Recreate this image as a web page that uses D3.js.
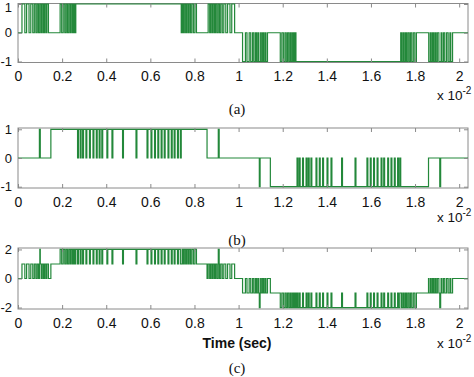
<!DOCTYPE html>
<html>
<head>
<meta charset="utf-8">
<script src="https://cdn.jsdelivr.net/npm/d3@7"></script>
<style>
  body { margin: 0; background: #fff; }
  svg { display: block; }
</style>
</head>
<body>
<div id="chart"></div>
<script>
const width = 474, height = 377

// time axis, in units of 1e-2 s
const xTicks = [0, 0.2, 0.4, 0.6, 0.8, 1, 1.2, 1.4, 1.6, 1.8, 2]
const yTicksAB = [-1, 0, 1]
const yTicksC = [-2, 0, 2]
const captions = ["(a)", "(b)", "(c)"]
const xLabel = "Time (sec)"

// switching instants [time, level from that time on]
const waveA = [
  [0,0],
  [0.018,1],[0.031,0],[0.039,1],[0.050,0],[0.058,1],[0.067,0],[0.074,1],[0.081,0],[0.087,1],[0.093,0],
  [0.099,1],[0.105,0],[0.110,1],[0.116,0],[0.121,1],[0.127,0],[0.131,1],[0.138,0],
  [0.191,1],[0.198,0],[0.205,1],[0.212,0],[0.218,1],[0.224,0],[0.230,1],[0.236,0],[0.241,1],[0.247,0],[0.252,1],[0.257,0],[0.262,1],
  [0.740,0],[0.744,1],[0.749,0],[0.754,1],[0.760,0],[0.765,1],[0.771,0],[0.776,1],[0.782,0],[0.788,1],[0.795,0],[0.802,1],[0.809,0],
  [0.862,1],[0.869,0],[0.873,1],[0.879,0],[0.884,1],[0.890,0],[0.895,1],[0.901,0],[0.907,1],[0.913,0],
  [0.919,1],[0.926,0],[0.933,1],[0.942,0],[0.950,1],[0.961,0],[0.969,1],[0.982,0],
  [1.018,-1],[1.031,0],[1.038,-1],[1.048,0],[1.055,-1],[1.063,0],[1.069,-1],[1.076,0],[1.081,-1],[1.087,0],
  [1.092,-1],[1.100,0],[1.103,-1],[1.109,0],[1.114,-1],[1.120,0],[1.124,-1],[1.131,0],
  [1.189,-1],[1.196,0],[1.203,-1],[1.210,0],[1.216,-1],[1.222,0],[1.228,-1],[1.234,0],[1.239,-1],[1.245,0],[1.250,-1],[1.255,0],[1.260,-1],
  [1.735,0],[1.739,-1],[1.745,0],[1.750,-1],[1.756,0],[1.761,-1],[1.767,0],[1.773,-1],[1.779,0],[1.785,-1],[1.792,0],[1.799,-1],[1.806,0],
  [1.862,-1],[1.869,0],[1.873,-1],[1.879,0],[1.884,-1],[1.890,0],[1.895,-1],[1.901,0],[1.908,-1],[1.918,0],
  [1.922,-1],[1.929,0],[1.935,-1],[1.943,0],[1.950,-1],[1.958,0],[1.962,-1],[1.970,0]
]

const waveB = [
  [0,0],[0.097,1],[0.101,0],[0.149,1],
  [0.270,0],[0.274,1],[0.282,0],[0.286,1],[0.293,0],[0.297,1],[0.308,0],[0.312,1],[0.324,0],[0.328,1],
  [0.340,0],[0.344,1],[0.355,0],[0.359,1],[0.368,0],[0.372,1],[0.380,0],[0.384,1],[0.403,0],[0.407,1],
  [0.426,0],[0.430,1],[0.474,0],[0.478,1],[0.535,0],[0.539,1],[0.585,0],[0.589,1],[0.603,0],[0.607,1],
  [0.619,0],[0.623,1],[0.634,0],[0.638,1],[0.649,0],[0.653,1],[0.663,0],[0.667,1],[0.680,0],[0.684,1],
  [0.695,0],[0.699,1],[0.708,0],[0.712,1],[0.723,0],[0.727,1],[0.736,0],[0.740,1],
  [0.857,0],[0.908,1],[0.912,0],
  [1.094,-1],[1.0975,0],[1.144,-1],
  [1.265,0],[1.269,-1],[1.275,0],[1.279,-1],[1.290,0],[1.294,-1],[1.306,0],[1.310,-1],[1.316,0],[1.320,-1],
  [1.328,0],[1.332,-1],[1.351,0],[1.355,-1],[1.366,0],[1.370,-1],[1.381,0],[1.385,-1],[1.401,0],[1.405,-1],
  [1.419,0],[1.423,-1],[1.467,0],[1.471,-1],[1.528,0],[1.532,-1],[1.582,0],[1.586,-1],[1.597,0],[1.601,-1],
  [1.612,0],[1.616,-1],[1.628,0],[1.632,-1],[1.646,0],[1.650,-1],[1.658,0],[1.662,-1],[1.676,0],[1.680,-1],
  [1.691,0],[1.695,-1],[1.706,0],[1.710,-1],[1.721,0],[1.725,-1],[1.731,0],[1.735,-1],
  [1.861,0],[1.912,-1],[1.916,0]
]

const waveC = [
  [0,0],
  [0.018,1],[0.031,0],[0.039,1],[0.050,0],[0.058,1],[0.067,0],[0.074,1],[0.081,0],[0.087,1],[0.093,0],
  [0.097,1],[0.099,2],[0.101,1],[0.105,0],
  [0.110,1],[0.116,0],[0.121,1],[0.127,0],[0.131,1],[0.138,0],
  [0.149,1],
  [0.191,2],[0.198,1],[0.205,2],[0.212,1],[0.218,2],[0.224,1],[0.230,2],[0.236,1],[0.241,2],[0.247,1],[0.252,2],[0.257,1],[0.262,2],
  [0.270,1],[0.274,2],[0.282,1],[0.286,2],[0.293,1],[0.297,2],[0.308,1],[0.312,2],[0.324,1],[0.328,2],
  [0.340,1],[0.344,2],[0.355,1],[0.359,2],[0.368,1],[0.372,2],[0.380,1],[0.384,2],[0.403,1],[0.407,2],
  [0.426,1],[0.430,2],[0.474,1],[0.478,2],[0.535,1],[0.539,2],[0.585,1],[0.589,2],[0.603,1],[0.607,2],
  [0.619,1],[0.623,2],[0.634,1],[0.638,2],[0.649,1],[0.653,2],[0.663,1],[0.667,2],[0.680,1],[0.684,2],
  [0.695,1],[0.699,2],[0.708,1],[0.712,2],[0.723,1],[0.727,2],
  [0.736,1],
  [0.744,2],[0.749,1],[0.754,2],[0.760,1],[0.765,2],[0.771,1],[0.776,2],[0.782,1],[0.788,2],[0.795,1],[0.802,2],[0.809,1],
  [0.857,0],
  [0.862,1],[0.869,0],[0.873,1],[0.879,0],[0.884,1],[0.890,0],[0.895,1],[0.901,0],
  [0.907,1],[0.908,2],[0.912,1],[0.913,0],
  [0.919,1],[0.926,0],[0.933,1],[0.942,0],[0.950,1],[0.961,0],[0.969,1],[0.982,0],
  [1.018,-1],[1.031,0],[1.038,-1],[1.048,0],[1.055,-1],[1.063,0],[1.069,-1],[1.076,0],[1.081,-1],[1.087,0],
  [1.092,-1],[1.094,-2],[1.0975,-1],[1.100,0],
  [1.103,-1],[1.109,0],[1.114,-1],[1.120,0],[1.124,-1],[1.131,0],
  [1.144,-1],
  [1.189,-2],[1.196,-1],[1.203,-2],[1.210,-1],[1.216,-2],[1.222,-1],[1.228,-2],[1.234,-1],[1.239,-2],[1.245,-1],[1.250,-2],[1.255,-1],[1.260,-2],
  [1.265,-1],[1.269,-2],[1.275,-1],[1.279,-2],[1.290,-1],[1.294,-2],[1.306,-1],[1.310,-2],[1.316,-1],[1.320,-2],
  [1.328,-1],[1.332,-2],[1.351,-1],[1.355,-2],[1.366,-1],[1.370,-2],[1.381,-1],[1.385,-2],[1.401,-1],[1.405,-2],
  [1.419,-1],[1.423,-2],[1.467,-1],[1.471,-2],[1.528,-1],[1.532,-2],[1.582,-1],[1.586,-2],[1.597,-1],[1.601,-2],
  [1.612,-1],[1.616,-2],[1.628,-1],[1.632,-2],[1.646,-1],[1.650,-2],[1.658,-1],[1.662,-2],[1.676,-1],[1.680,-2],
  [1.691,-1],[1.695,-2],[1.706,-1],[1.710,-2],[1.721,-1],[1.725,-2],
  [1.731,-1],
  [1.739,-2],[1.745,-1],[1.750,-2],[1.756,-1],[1.761,-2],[1.767,-1],[1.773,-2],[1.779,-1],[1.785,-2],[1.792,-1],[1.799,-2],[1.806,-1],
  [1.861,0],
  [1.862,-1],[1.869,0],[1.873,-1],[1.879,0],[1.884,-1],[1.890,0],[1.895,-1],[1.901,0],
  [1.908,-1],[1.912,-2],[1.916,-1],[1.918,0],
  [1.922,-1],[1.929,0],[1.935,-1],[1.943,0],[1.950,-1],[1.958,0],[1.962,-1],[1.970,0]
]

const tMax = 2.04
const green = "#23883a"
const boxGray = "#8a8a8a"

// layout of the three stacked plots
const panels = [
  { wave: waveA, top: 3.5, bottom: 62.5, yDom: [-1.035, 1.017], yTicks: yTicksAB, capY: 114, expY: 100 },
  { wave: waveB, top: 128, bottom: 188, yDom: [-1.045, 1.045], yTicks: yTicksAB, capY: 245, expY: 222 },
  { wave: waveC, top: 248, bottom: 309, yDom: [-2.1, 2.1], yTicks: yTicksC, capY: 373, expY: 348 }
]

const svg = d3.select("#chart").append("svg")
  .attr("width", width)
  .attr("height", height)

const xScale = d3.scaleLinear().domain([0, tMax]).range([18, 468])
const fmt = d => String(d)

panels.forEach((p, i) => {
  const yScale = d3.scaleLinear().domain(p.yDom).range([p.bottom, p.top])
  const g = svg.append("g")

  // box
  g.append("rect")
    .attr("x", xScale(0)).attr("y", p.top)
    .attr("width", xScale(tMax) - xScale(0)).attr("height", p.bottom - p.top)
    .attr("fill", "none").attr("stroke", boxGray).attr("stroke-width", 1)

  // waveform
  const pts = p.wave.concat([[tMax, p.wave[p.wave.length - 1][1]]])
  const line = d3.line()
    .x(d => xScale(d[0]))
    .y(d => yScale(d[1]))
    .curve(d3.curveStepAfter)
  g.append("path")
    .datum(pts)
    .attr("d", line)
    .attr("fill", "none")
    .attr("stroke", green)
    .attr("stroke-width", 1.2)

  // axes, ticks pointing inwards like matlab
  const xb = g.append("g")
    .attr("transform", `translate(0, ${p.bottom})`)
    .call(d3.axisBottom(xScale).tickValues(xTicks).tickFormat(fmt).tickSizeInner(-4).tickSizeOuter(0).tickPadding(9))
  const xt = g.append("g")
    .attr("transform", `translate(0, ${p.top})`)
    .call(d3.axisTop(xScale).tickValues(xTicks).tickSizeInner(-4).tickSizeOuter(0).tickFormat(""))
  const yl = g.append("g")
    .attr("transform", `translate(${xScale(0)}, 0)`)
    .call(d3.axisLeft(yScale).tickValues(p.yTicks).tickFormat(fmt).tickSizeInner(-4).tickSizeOuter(0).tickPadding(6))
  const yr = g.append("g")
    .attr("transform", `translate(${xScale(tMax)}, 0)`)
    .call(d3.axisRight(yScale).tickValues(p.yTicks).tickSizeInner(-4).tickSizeOuter(0).tickFormat(""))

  ;[xb, xt, yl, yr].forEach(a => {
    a.select(".domain").remove()
    a.selectAll(".tick line").attr("stroke", boxGray)
    a.selectAll(".tick text")
      .attr("fill", "#111")
      .attr("font-family", "Liberation Sans, Arial, sans-serif")
  })
  xb.selectAll(".tick text").attr("font-size", 14)
  yl.selectAll(".tick text").attr("font-size", 13)
  // keep the top label of the first plot inside the page
  if (i === 0) yl.selectAll(".tick text").filter(d => d === 1).attr("dy", "0.55em")

  // x 10^-2 exponent
  const ex = g.append("text")
    .attr("x", 437).attr("y", p.expY)
    .attr("font-family", "Liberation Sans, Arial, sans-serif")
    .attr("font-size", 13.5)
    .attr("fill", "#111")
  ex.append("tspan").text("x 10")
  ex.append("tspan").attr("dy", -6).attr("font-size", 10).text("-2")

  if (i === 2) {
    g.append("text")
      .attr("x", 237).attr("y", 348)
      .attr("text-anchor", "middle")
      .attr("font-family", "Liberation Sans, Arial, sans-serif")
      .attr("font-weight", "bold")
      .attr("font-size", 14)
      .attr("fill", "#111")
      .text(xLabel)
  }

  // caption
  g.append("text")
    .attr("x", 237).attr("y", p.capY)
    .attr("text-anchor", "middle")
    .attr("font-family", "Liberation Serif, Times New Roman, serif")
    .attr("font-size", 15)
    .attr("fill", "#111")
    .text(captions[i])
})
</script>
</body>
</html>
